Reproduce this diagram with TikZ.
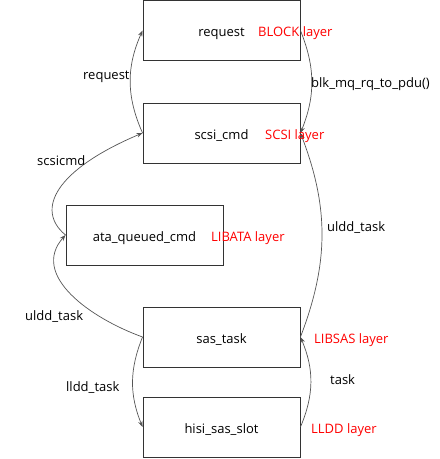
\documentclass[tikz,border=0pt]{standalone}
\usepackage{fontspec}
\setmainfont{Open Sans}
\usetikzlibrary{arrows.meta}
\definecolor{boxline}{HTML}{333333}
\definecolor{curveline}{HTML}{555555}
\definecolor{layerred}{HTML}{FF0000}
\tikzset{
  box/.style={draw=boxline, line width=0.9pt, minimum width=157pt, minimum height=60pt, inner sep=0pt, text height=12pt, text depth=0pt, font=\fontsize{13}{15}\selectfont},
  lbl/.style={inner sep=0pt, anchor=base west, font=\fontsize{13}{15}\selectfont},
  layer/.style={lbl, text=layerred},
  conn/.style={draw=curveline, line width=0.7pt, -{Stealth[length=6pt,width=4.5pt]}}
}
\begin{document}
\begin{tikzpicture}[x=1pt,y=1pt]
\useasboundingbox (0,0) rectangle (440,-459);
\node[box] (req) at (221.5,-30.5) {request};
\node[box] (scsi) at (221.5,-133) {scsi\_cmd};
\node[box] (ata) at (144.5,-235) {ata\_queued\_cmd};
\node[box] (sas) at (221.5,-337) {sas\_task};
\node[box] (hisi) at (221.5,-427) {hisi\_sas\_slot};
\draw[conn] (scsi.west) to[bend left=24] (req.west);
\draw[conn] (req.east) to[bend left=22] (scsi.east);
\draw[conn] (ata.west) .. controls (35,-210) and (55,-170) .. (scsi.west);
\draw[conn] (sas.west) .. controls (90,-318) and (30,-275) .. (ata.west);
\draw[conn] (sas.east) to[bend right=21] (scsi.east);
\draw[conn] (hisi.east) to[bend right=23] (sas.east);
\draw[conn] (sas.west) to[bend right=22] (hisi.west);
\node[layer] (lblock) at (258,-36) {BLOCK layer};
\node[layer] (lscsi) at (265,-139) {SCSI layer};
\node[layer] (lata) at (211,-241) {LIBATA layer};
\node[layer] (lsas) at (314,-343) {LIBSAS layer};
\node[layer] (llldd) at (311,-433) {LLDD layer};
\node[lbl] (trequest) at (83,-79) {request};
\node[lbl] (tblk) at (311,-87) {blk\_mq\_rq\_to\_pdu()};
\node[lbl] (tscsicmd) at (37,-165) {scsicmd};
\node[lbl] (tulddr) at (327,-231) {uldd\_task};
\node[lbl] (tulddl) at (25,-320) {uldd\_task};
\node[lbl] (tlldd) at (66,-391) {lldd\_task};
\node[lbl] (ttask) at (330,-384) {task};
\end{tikzpicture}
\end{document}
